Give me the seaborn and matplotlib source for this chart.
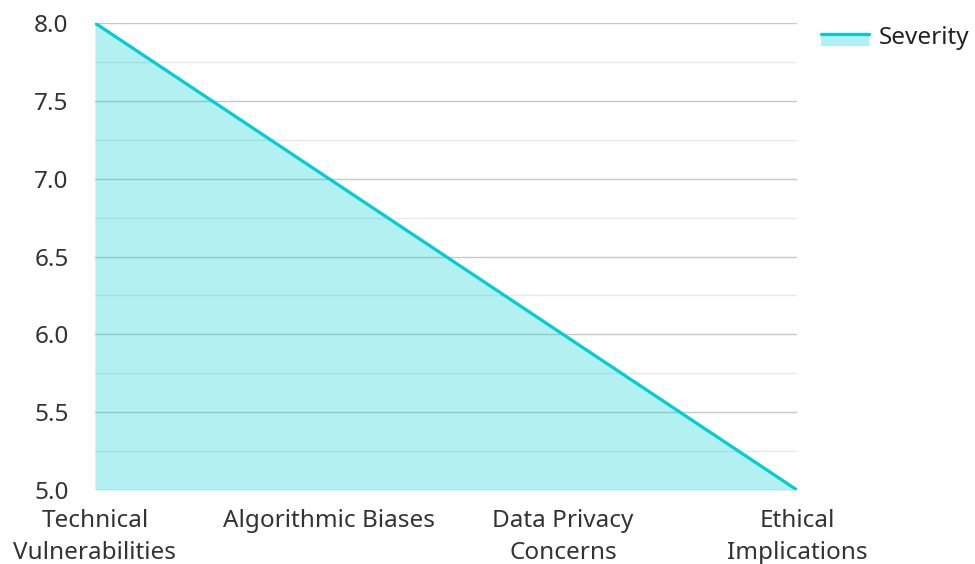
import matplotlib
matplotlib.use("Agg")
import matplotlib.pyplot as plt
import seaborn as sns
import pandas as pd
from matplotlib.patches import Rectangle
from matplotlib.lines import Line2D
from matplotlib.ticker import MultipleLocator

categories = ["Technical\nVulnerabilities", "Algorithmic Biases", "Data Privacy\nConcerns", "Ethical\nImplications"]
severity = [8.0, 7.0, 6.0, 5.0]

LINE = "#00CED1"

df = pd.DataFrame({"pos": range(len(categories)), "severity": severity})

sns.set_style("white")
plt.rcParams['font.family'] = ['Noto Sans', 'DejaVu Sans']

fig = plt.figure(figsize=(9.75, 5.64), dpi=100)
ax = fig.add_axes([0.0974, 0.1312, 0.8174 - 0.0974, 0.9592 - 0.1312])

ax.set_axisbelow(True)
ax.fill_between(df["pos"], df["severity"], 5.0, color=LINE, alpha=0.3, linewidth=0)
sns.lineplot(data=df, x="pos", y="severity", color=LINE, linewidth=2.3, ax=ax)

ax.set_xlim(0, 3)
ax.set_ylim(5, 8)
ax.set_xticks(df["pos"])
ax.set_xticklabels(categories, linespacing=1.45)
ax.yaxis.set_major_locator(MultipleLocator(0.5))
ax.yaxis.set_minor_locator(MultipleLocator(0.25))
ax.yaxis.set_major_formatter(matplotlib.ticker.FormatStrFormatter("%.1f"))
ax.grid(axis="y", which="major", color="#c8c8c8", linewidth=1)
ax.grid(axis="y", which="minor", color="#e8e8e8", linewidth=1)
ax.tick_params(axis="both", which="both", length=0, labelsize=17.5, colors="#333333")
ax.tick_params(axis="y", pad=19)
ax.tick_params(axis="x", pad=13.5)
ax.set_xlabel("")
ax.set_ylabel("")
for s in ax.spines.values():
    s.set_visible(False)


class AreaHandler:
    # line on top, translucent band just under it
    def legend_artist(self, legend, orig_handle, fontsize, handlebox):
        x0, y0 = handlebox.xdescent, handlebox.ydescent
        w, h = handlebox.width, handlebox.height
        mid = y0 + h * 0.5 + 1
        tr = handlebox.get_transform()
        rect = Rectangle((x0, mid - 8), w, 8, facecolor=LINE, alpha=0.3,
                         edgecolor="none", transform=tr)
        line = Line2D([x0, x0 + w], [mid, mid], color=LINE, linewidth=2.3, transform=tr)
        handlebox.add_artist(rect)
        handlebox.add_artist(line)
        return rect


proxy = Rectangle((0, 0), 1, 1)
fig.legend([proxy], ["Severity"], handler_map={Rectangle: AreaHandler()},
           loc="upper left", bbox_to_anchor=(0.8195, 0.992), frameon=False,
           fontsize=17.5, handlelength=2.0, handletextpad=0.38, labelcolor="#222222")

fig.savefig("out.png", dpi=100)
